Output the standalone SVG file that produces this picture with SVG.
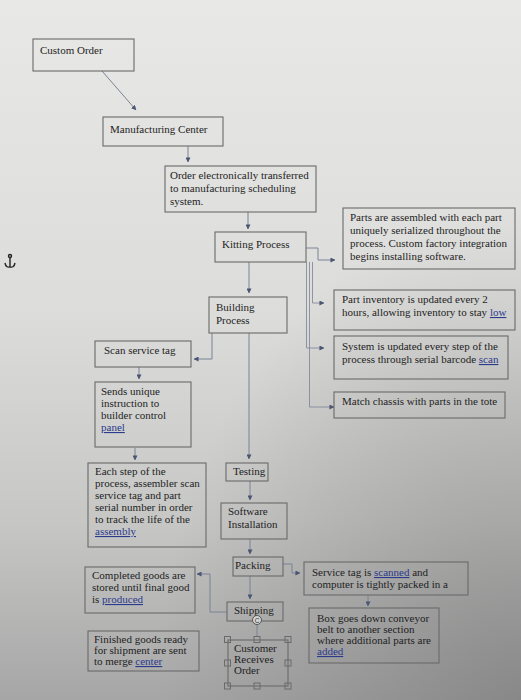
<svg xmlns="http://www.w3.org/2000/svg" width="521" height="700" viewBox="0 0 521 700">
<defs>
<linearGradient id="bg" x1="0" y1="0" x2="0" y2="1">
<stop offset="0" stop-color="#e8e8e6"/>
<stop offset="0.45" stop-color="#dcdcda"/>
<stop offset="0.75" stop-color="#c6c6c5"/>
<stop offset="1" stop-color="#a6a6a6"/>
</linearGradient>
<radialGradient id="vig" cx="1" cy="1" r="0.7">
<stop offset="0" stop-color="#707070" stop-opacity="0.55"/>
<stop offset="1" stop-color="#707070" stop-opacity="0"/>
</radialGradient>
<marker id="ah" viewBox="0 0 6 6" refX="5.5" refY="3" markerWidth="5" markerHeight="5" orient="auto" markerUnits="userSpaceOnUse">
<path d="M0,0 L6,3 L0,6 z" fill="#4a5572"/>
</marker>
<style>
.box{fill:none;stroke:#6a6a6a;stroke-width:1.1}
.h{fill:none;stroke:#6a6a6a;stroke-width:1}
.t{font-family:"Liberation Serif","Times New Roman",serif;font-size:11px;fill:#1e1e1e}
.u{fill:#2b3a8c;text-decoration:underline}
.c{fill:none;stroke:#7a8294;stroke-width:1}
.ca{fill:none;stroke:#7a8294;stroke-width:1;marker-end:url(#ah)}
.cs{fill:none;stroke:#7a8294;stroke-width:0.8;marker-end:url(#ah)}
</style>
</defs>
<rect width="521" height="700" fill="url(#bg)"/>
<rect width="521" height="700" fill="url(#vig)"/>

<g id="anchor" fill="none" stroke="#222" stroke-width="1.4">
<circle cx="10" cy="256" r="1.5"/>
<path d="M10,258 V267 M5,263 Q6,268 10,267 Q14,268 15,263"/>
</g>

<g id="connectors">
<path class="ca" d="M102,71 L136,110"/>
<path class="ca" d="M188,146 V162"/>
<path class="ca" d="M248,212 V229"/>
<path class="ca" d="M306,248 H318 V260 H335"/>
<path class="cs" d="M312.5,262 V303 H324"/>
<path class="cs" d="M306.5,262 V348 H324"/>
<path class="cs" d="M309.5,262 V407 H334"/>
<path class="ca" d="M249,262 V293"/>
<path class="ca" d="M212,333 V359 H194"/>
<path class="ca" d="M249,333 V459"/>
<path class="ca" d="M139,367 V379"/>
<path class="ca" d="M135,448 V460"/>
<path class="ca" d="M250,481 V500"/>
<path class="ca" d="M250,539 V554"/>
<path class="ca" d="M283,564 H292 V573 H300"/>
<path class="ca" d="M368,595 V606"/>
<path class="ca" d="M250,576 V599"/>
<path class="ca" d="M227,612 H210 V574 H197"/>
<path class="c" d="M257,625 V636"/>
</g>

<g id="custom-order">
<rect class="box" x="33" y="39" width="101" height="32"/>
<text class="t" x="40" y="54">Custom Order</text>
</g>

<g id="manufacturing-center">
<rect class="box" x="103" y="117" width="120" height="29"/>
<text class="t" x="110" y="133">Manufacturing Center</text>
</g>

<g id="order-transferred">
<rect class="box" x="165" y="166" width="151" height="46"/>
<text class="t" x="170" y="179">Order electronically transferred</text>
<text class="t" x="170" y="192">to manufacturing scheduling</text>
<text class="t" x="170" y="205">system.</text>
</g>

<g id="kitting">
<rect class="box" x="215" y="232" width="91" height="30"/>
<text class="t" x="222" y="248">Kitting Process</text>
</g>

<g id="parts-assembled">
<rect class="box" x="343" y="208" width="172" height="61"/>
<text class="t" x="350" y="221">Parts are assembled with each part</text>
<text class="t" x="350" y="234">uniquely serialized throughout the</text>
<text class="t" x="350" y="247">process. Custom factory integration</text>
<text class="t" x="350" y="260">begins installing software.</text>
</g>

<g id="building">
<rect class="box" x="209" y="297" width="78" height="36"/>
<text class="t" x="216" y="311">Building</text>
<text class="t" x="216" y="324">Process</text>
</g>

<g id="part-inventory">
<rect class="box" x="334" y="290" width="181" height="40"/>
<text class="t" x="342" y="303">Part inventory is updated every 2</text>
<text class="t" x="342" y="316">hours, allowing inventory to stay <tspan class="u">low</tspan></text>
</g>

<g id="system-updated">
<rect class="box" x="334" y="336" width="174" height="43"/>
<text class="t" x="342" y="350">System is updated every step of the</text>
<text class="t" x="342" y="363">process through serial barcode <tspan class="u">scan</tspan></text>
</g>

<g id="match-chassis">
<rect class="box" x="334" y="392" width="171" height="26"/>
<text class="t" x="342" y="405">Match chassis with parts in the tote</text>
</g>

<g id="scan-service-tag">
<rect class="box" x="95" y="341" width="96" height="26"/>
<text class="t" x="104" y="354">Scan service tag</text>
</g>

<g id="sends-unique">
<rect class="box" x="95" y="382" width="96" height="65"/>
<text class="t" x="101" y="395">Sends unique</text>
<text class="t" x="101" y="407">instruction to</text>
<text class="t" x="101" y="419">builder control</text>
<text class="t" x="101" y="431"><tspan class="u">panel</tspan></text>
</g>

<g id="each-step">
<rect class="box" x="88" y="463" width="118" height="84"/>
<text class="t" x="95" y="475">Each step of the</text>
<text class="t" x="95" y="487">process, assembler scan</text>
<text class="t" x="95" y="499">service tag and part</text>
<text class="t" x="95" y="511">serial number in order</text>
<text class="t" x="95" y="523">to track the life of the</text>
<text class="t" x="95" y="535"><tspan class="u">assembly</tspan></text>
</g>

<g id="testing">
<rect class="box" x="226" y="463" width="42" height="18"/>
<text class="t" x="233" y="475">Testing</text>
</g>

<g id="software-installation">
<rect class="box" x="221" y="503" width="66" height="36"/>
<text class="t" x="228" y="515">Software</text>
<text class="t" x="228" y="528">Installation</text>
</g>

<g id="packing">
<rect class="box" x="233" y="557" width="50" height="19"/>
<text class="t" x="235" y="569">Packing</text>
</g>

<g id="service-tag-scanned">
<rect class="box" x="304" y="562" width="164" height="33"/>
<text class="t" x="312" y="576">Service tag is <tspan class="u">scanned</tspan> and</text>
<text class="t" x="312" y="588">computer is tightly packed in a</text>
</g>

<g id="box-conveyor">
<rect class="box" x="309" y="608" width="130" height="55"/>
<text class="t" x="317" y="622">Box goes down conveyor</text>
<text class="t" x="317" y="633">belt to another section</text>
<text class="t" x="317" y="644">where additional parts are</text>
<text class="t" x="317" y="655"><tspan class="u">added</tspan></text>
</g>

<g id="shipping">
<rect class="box" x="227" y="602" width="56" height="19"/>
<text class="t" x="234" y="614">Shipping</text>
<circle cx="257" cy="620" r="4.5" fill="#d4d4d2" stroke="#555" stroke-width="1"/>
<text x="257" y="622.5" text-anchor="middle" style="font-family:'Liberation Sans',Arial,sans-serif;font-size:6.5px;fill:#333">C</text>
</g>

<g id="customer-receives">
<rect class="box" x="228" y="640" width="60" height="46"/>
<rect class="h" x="224.5" y="636.5" width="6" height="6"/>
<rect class="h" x="254" y="636.5" width="6" height="6"/>
<rect class="h" x="285" y="636.5" width="6" height="6"/>
<rect class="h" x="224.5" y="660" width="6" height="6"/>
<rect class="h" x="285" y="660" width="6" height="6"/>
<rect class="h" x="224.5" y="683" width="6" height="6"/>
<rect class="h" x="254" y="683" width="6" height="6"/>
<rect class="h" x="285" y="683" width="6" height="6"/>
<text class="t" x="234" y="652">Customer</text>
<text class="t" x="234" y="663">Receives</text>
<text class="t" x="234" y="674">Order</text>
</g>

<g id="completed-goods">
<rect class="box" x="85" y="567" width="110" height="46"/>
<text class="t" x="92" y="579">Completed goods are</text>
<text class="t" x="92" y="591">stored until final good</text>
<text class="t" x="92" y="603">is <tspan class="u">produced</tspan></text>
</g>

<g id="finished-goods">
<rect class="box" x="88" y="631" width="111" height="40"/>
<text class="t" x="94" y="643">Finished goods ready</text>
<text class="t" x="94" y="654">for shipment are sent</text>
<text class="t" x="94" y="665">to merge <tspan class="u">center</tspan></text>
</g>
</svg>
